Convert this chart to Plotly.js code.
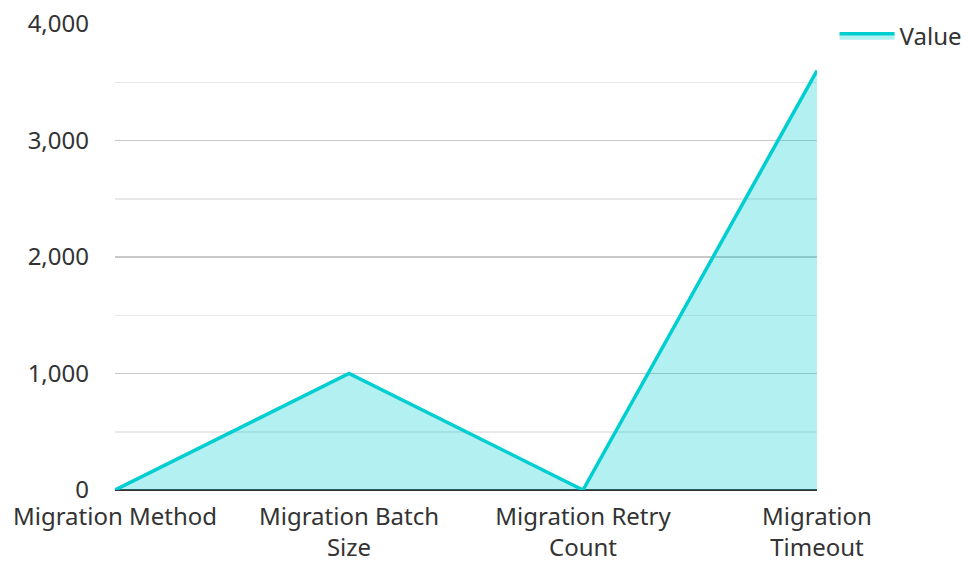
<!DOCTYPE html>
<html>
<head>
<meta charset="utf-8">
<script src="https://cdn.plot.ly/plotly-3.0.1.min.js"></script>
<style>html,body{margin:0;padding:0;background:#fff;}#chart{width:966px;height:562px;}</style>
</head>
<body>
<div id="chart"></div>
<script>
const categories = ["Migration Method", "Migration Batch Size", "Migration Retry Count", "Migration Timeout"];
const tickLabels = ["Migration Method", "Migration Batch<br>Size", "Migration Retry<br>Count", "Migration<br>Timeout"];
const values = [0, 1000, 0, 3600];
const seriesName = "Value";

const trace = {
  x: categories,
  y: values,
  type: "scatter",
  mode: "lines",
  name: seriesName,
  fill: "tozeroy",
  fillcolor: "rgba(0,206,209,0.3)",
  line: {color: "#00CED1", width: 3.5}
};

const layout = {
  width: 966, height: 562,
  margin: {l: 115, r: 149, t: 24, b: 72, autoexpand: false},
  paper_bgcolor: "#fff", plot_bgcolor: "#fff",
  font: {family: "Noto Sans, Open Sans, sans-serif", size: 24, color: "#333"},
  showlegend: true,
  legend: {x: 1.025, xanchor: "left", y: 1.022, yanchor: "top", itemwidth: 55, font: {size: 24, color: "#333"}, bgcolor: "rgba(0,0,0,0)"},
  xaxis: {
    type: "category",
    range: [0, 3],
    tickvals: categories,
    ticktext: tickLabels,
    showgrid: false,
    zeroline: false,
    showline: false,
    ticks: "",
    ticklabelstandoff: 10,
    automargin: false,
    tickfont: {size: 24, color: "#333"}
  },
  yaxis: {
    range: [0, 4000],
    dtick: 1000,
    tickformat: ",d",
    showgrid: true,
    gridcolor: "#c8c8c8",
    gridwidth: 1.5,
    minor: {dtick: 500, showgrid: true, gridcolor: "#e8e8e8", gridwidth: 1.5},
    zeroline: true,
    zerolinecolor: "#333",
    zerolinewidth: 2,
    showline: false,
    ticks: "",
    ticklabelstandoff: 25,
    automargin: false,
    tickfont: {size: 24, color: "#333"}
  }
};

Plotly.newPlot("chart", [trace], layout, {displayModeBar: false, staticPlot: true});
</script>
</body>
</html>
